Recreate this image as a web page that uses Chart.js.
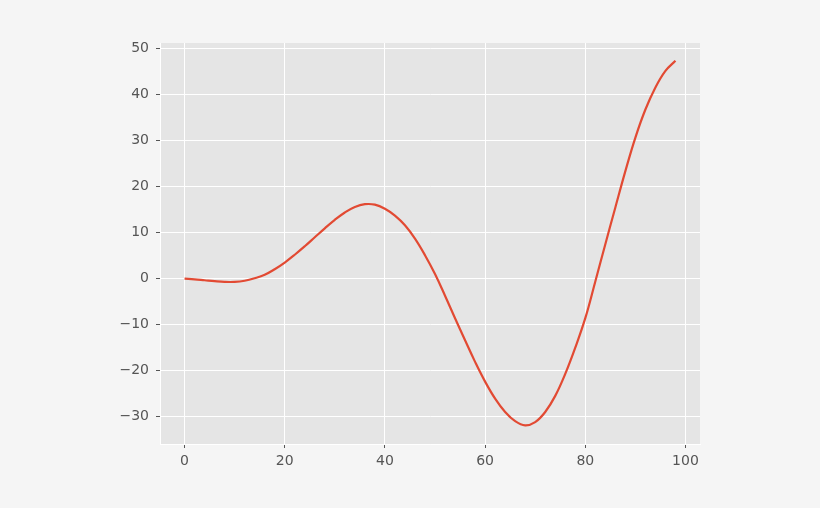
<!DOCTYPE html>
<html>
<head>
<meta charset="utf-8">
<script src="https://cdn.jsdelivr.net/npm/chart.js@4/dist/chart.umd.min.js"></script>
<style>
  html, body { margin: 0; padding: 0; background: #f5f5f5; }
  #wrap { width: 820px; height: 508px; }
</style>
</head>
<body>
<div id="wrap"><canvas id="chart" width="820" height="508"></canvas></div>
<script>
// values, every 2 units of x
const xValues = [0, 2, 4, 6, 8, 10, 12, 14, 16, 18, 20, 22, 24, 26, 28, 30, 32, 34, 36, 38,
  40, 42, 44, 46, 48, 50, 52, 54, 56, 58, 60, 62, 64, 66, 68, 70, 72, 74, 76, 78,
  80, 82, 84, 86, 88, 90, 92, 94, 96, 98];
const yValues = [0, -0.15, -0.35, -0.55, -0.7, -0.7, -0.45, 0.1, 0.85, 2.05, 3.5, 5.2, 7.05, 9.0, 10.95, 12.8, 14.4, 15.6, 16.2, 16.1,
  15.2, 13.7, 11.6, 8.7, 5.1, 1.0, -3.7, -8.6, -13.4, -18.1, -22.4, -26.1, -29.0, -31.0, -31.9, -31.2, -29.0, -25.5, -20.7, -15.0,
  -8.6, -0.6, 7.5, 15.5, 23.4, 30.7, 36.8, 41.6, 45.2, 47.4];

const xTicks = [0, 20, 40, 60, 80, 100];
const yTicks = [-30, -20, -10, 0, 10, 20, 30, 40, 50];

const points = xValues.map((x, i) => ({ x: x, y: yValues[i] }));

// grey panel behind the plot, like the ggplot style
const panelBg = {
  id: 'panelBg',
  beforeDraw(chart) {
    const { ctx, chartArea: a } = chart;
    ctx.save();
    ctx.fillStyle = '#e5e5e5';
    ctx.fillRect(a.left, a.top, a.right - a.left, a.bottom - a.top);
    ctx.restore();
  },
};

const tickFont = { family: 'DejaVu Sans', size: 14 };
const minus = (v) => String(v).replace('-', '\u2212');

new Chart(document.getElementById('chart'), {
  type: 'scatter',
  data: {
    datasets: [{
      data: points,
      showLine: true,
      borderColor: '#E24A33',
      borderWidth: 2.2,
      pointRadius: 0,
      tension: 0.4,
    }],
  },
  options: {
    responsive: false,
    animation: false,
    layout: { padding: { top: 43, right: 120, left: 0, bottom: 0 } },
    plugins: { legend: { display: false }, tooltip: { enabled: false } },
    scales: {
      x: {
        type: 'linear',
        min: -4.9,
        max: 102.9,
        afterBuildTicks: (axis) => { axis.ticks = xTicks.map((v) => ({ value: v })); },
        afterFit: (axis) => { axis.height = 64; },
        grid: { color: '#ffffff', lineWidth: 1, tickColor: '#555555', tickLength: 4 },
        border: { color: '#ffffff', width: 1 },
        ticks: { font: tickFont, color: '#555555', padding: 5, maxRotation: 0, callback: minus },
      },
      y: {
        type: 'linear',
        min: -35.97,
        max: 51.27,
        afterBuildTicks: (axis) => { axis.ticks = yTicks.map((v) => ({ value: v })); },
        afterFit: (axis) => { axis.width = 160; },
        grid: { color: '#ffffff', lineWidth: 1, tickColor: '#555555', tickLength: 4 },
        border: { color: '#ffffff', width: 1 },
        ticks: { font: tickFont, color: '#555555', padding: 7, callback: minus },
      },
    },
  },
  plugins: [panelBg],
});
</script>
</body>
</html>
